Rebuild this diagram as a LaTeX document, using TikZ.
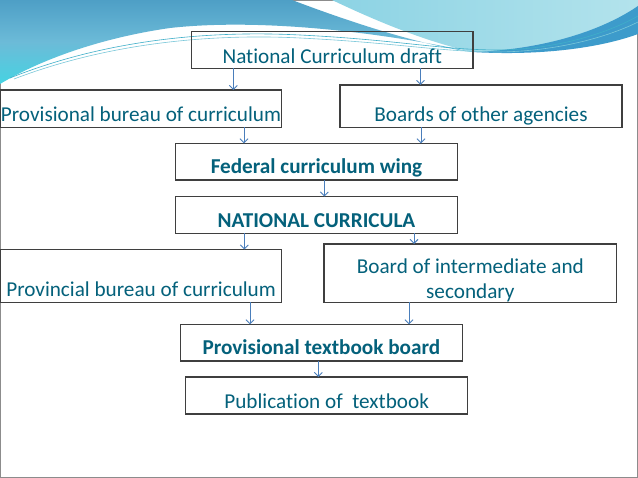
\documentclass[tikz,border=0pt]{standalone}
\usepackage{fontspec}
\setmainfont{Carlito}[Ligatures=NoCommon]
\usetikzlibrary{arrows.meta}

\definecolor{txtteal}{HTML}{04617B}
\definecolor{arrowblue}{HTML}{4A7EBB}
\definecolor{boxgray}{HTML}{3F3F3F}
\definecolor{framegray}{HTML}{8C8C8C}
\definecolor{wavetop}{HTML}{4E9FC6}
\definecolor{wavemid}{HTML}{6CBBD8}
\definecolor{wavecyan}{HTML}{46D3E2}
\definecolor{wavelight}{HTML}{B3E3EC}
\definecolor{wavepale}{HTML}{8CD3E4}
\definecolor{wavedark}{HTML}{3D9BCB}
\definecolor{waveline}{HTML}{3FAFC9}

\begin{document}
\begin{tikzpicture}[x=1pt, y=-1pt,
        box/.style={draw=boxgray, line width=1.1pt, inner sep=0pt, outer sep=0pt,
                    text=txtteal, font=\fontsize{21.2}{25.5}\selectfont},
        boldbox/.style={box, font=\fontsize{21.2}{25.5}\selectfont\bfseries},
        flow/.style={draw=arrowblue, line width=0.9pt, -{Straight Barb[length=4pt, width=8pt]}}]
        \useasboundingbox (0, 0) rectangle (638, 478);

        % Slide frame:
        \fill[white] (0, 0) rectangle (638, 478);
        \draw[framegray, line width=1pt] (0.5, 0.5) rectangle (637, 477.5);

        % Waves on top:
        \shade[left color=wavepale, right color=wavelight] (332, 0) -- (638, 0) -- (638, 22)
            .. controls (590, 40) and (530, 52) .. (472, 52)
            .. controls (420, 40) and (370, 18) .. (332, 0) -- cycle;
        \shade[top color=wavetop, bottom color=wavecyan, middle color=wavemid] (0, 0) -- (292, 0)
            .. controls (350, 22) and (420, 45) .. (472, 52)
            .. controls (380, 32) and (260, 18) .. (170, 28)
            .. controls (100, 38) and (40, 60) .. (0, 84) -- cycle;
        \fill[wavedark] (472, 52) .. controls (540, 50) and (600, 32) .. (638, 6) -- (638, 34)
            .. controls (600, 48) and (540, 56) .. (472, 52) -- cycle;
        \draw[waveline, line width=0.6pt] (10, 78) .. controls (100, 42) and (200, 30) .. (300, 35)
            .. controls (400, 40) and (440, 50) .. (500, 50) .. controls (560, 49) and (610, 32) .. (638, 16);
        \draw[waveline!70, line width=0.6pt] (14, 79) .. controls (100, 46) and (200, 33) .. (300, 38)
            .. controls (400, 43) and (440, 52) .. (500, 52) .. controls (560, 51) and (610, 36) .. (638, 22);

        % Boxes:
        \node[box, minimum width=281.5pt, text height=31.8pt, text depth=5.2pt] (draft) at (332.25, 50) {National Curriculum draft};
        \node[box, minimum width=281pt, text height=31.7pt, text depth=5.6pt] (provb) at (141, 108.65) {Provisional bureau of curriculum};
        \node[box, minimum width=282pt, text height=36.7pt, text depth=5.6pt] (boards) at (481, 106.15) {Boards of other agencies};
        \node[boldbox, minimum width=281.6pt, text height=30.7pt, text depth=6pt] (federal) at (316.5, 161.65) {Federal curriculum wing};
        \node[boldbox, minimum width=281.6pt, text height=31.5pt, text depth=5.2pt] (natcur) at (316.5, 214.85) {NATIONAL CURRICULA};
        \node[box, minimum width=281.2pt, text height=47.2pt, text depth=5.6pt] (provinc) at (141.1, 275.9) {Provincial bureau of curriculum};
        \node[box, minimum width=292.7pt, text height=54.8pt, text depth=3.5pt, align=center] (boardint) at (470.35, 273.15) {Board of intermediate and\\secondary};
        \node[boldbox, minimum width=282pt, text height=30.7pt, text depth=6pt] (ptb) at (321.3, 342.65) {Provisional textbook board};
        \node[box, minimum width=282pt, text height=31.3pt, text depth=5.7pt] (pub) at (326.7, 395.5) {Publication of\ \ textbook};

        % Arrows:
        \draw[flow] (draft.south -| 233.3, 0) -- (provb.north -| 233.3, 0);
        \draw[flow] (draft.south -| 420.5, 0) -- (boards.north -| 420.5, 0);
        \draw[flow] (provb.south -| 244, 0) -- (federal.north -| 244, 0);
        \draw[flow] (boards.south -| 421, 0) -- (federal.north -| 421, 0);
        \draw[flow] (federal.south -| 324.3, 0) -- (natcur.north -| 324.3, 0);
        \draw[flow] (natcur.south -| 244.3, 0) -- (provinc.north -| 244.3, 0);
        \draw[flow] (natcur.south -| 414, 0) -- (boardint.north -| 414, 0);
        \draw[flow] (provinc.south -| 250, 0) -- (ptb.north -| 250, 0);
        \draw[flow] (boardint.south -| 409, 0) -- (ptb.north -| 409, 0);
        \draw[flow] (ptb.south -| 318.3, 0) -- (pub.north -| 318.3, 0);
    \end{tikzpicture}
\end{document}
